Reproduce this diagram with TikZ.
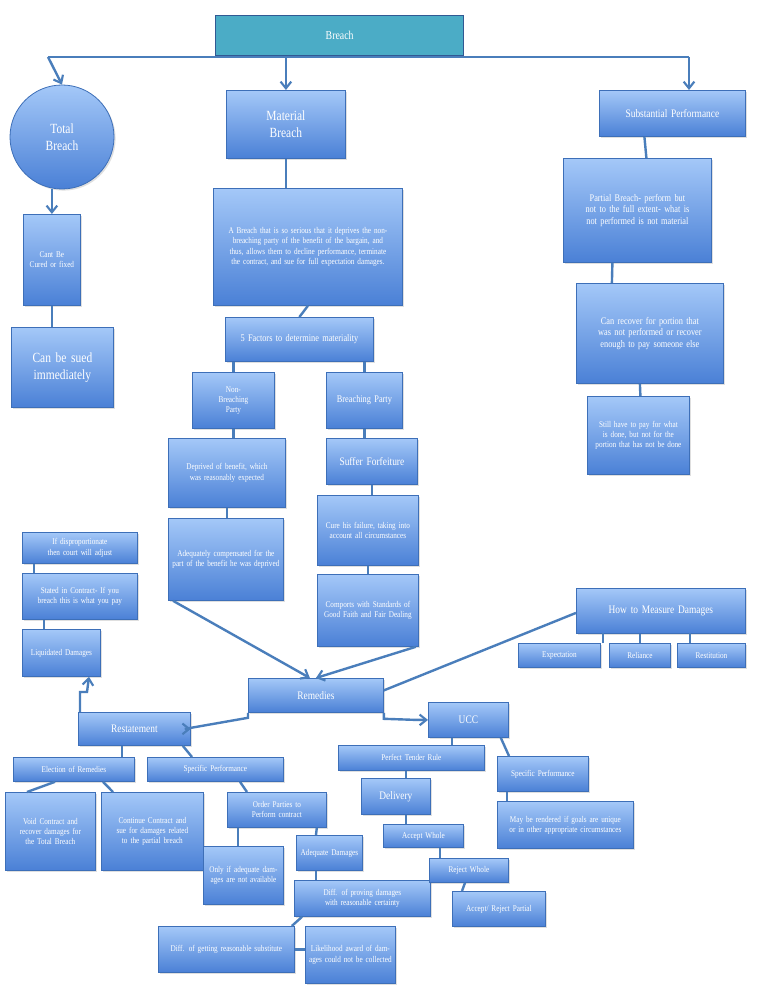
\documentclass[tikz,border=0pt]{standalone}
\usepackage{fontspec}
\setmainfont{Liberation Serif}[FakeStretch=0.82]
\usetikzlibrary{calc,shadows,arrows.meta}
\definecolor{btop}{HTML}{A4C8F8}
\definecolor{bbot}{HTML}{4A80D6}
\definecolor{bdr}{HTML}{3D6FB8}
\definecolor{lnc}{HTML}{4A7EBB}
\definecolor{teal}{HTML}{4BACC6}
\tikzset{
 box/.style={draw=bdr,line width=0.6pt,top color=btop,bottom color=bbot,text=white,align=center,inner sep=1pt,drop shadow={opacity=0.25,shadow xshift=1.2pt,shadow yshift=-1.2pt}},
 f7/.style={font=\fontsize{6.6}{7.6}\selectfont},
 f8/.style={font=\fontsize{7.6}{8.8}\selectfont},
 f9/.style={font=\fontsize{8.6}{10}\selectfont},
 f11/.style={font=\fontsize{10.5}{12.5}\selectfont},
 ln/.style={draw=lnc,line width=1.8pt},
 arr/.style={ln,-{Straight Barb[length=5pt,width=8pt,line width=1.6pt]}},
}
\newcommand\bx[7]{%
 \pgfmathsetmacro\W{(#4-#2)*0.75}\pgfmathsetmacro\H{(#5-#3)*0.75}\pgfmathsetmacro\T{\W-5}%
 \node[box,#6,minimum width=\W pt,minimum height=\H pt,text width=\T pt,anchor=north west] (#1) at (#2,#3) {#7};}
\begin{document}
\begin{tikzpicture}[x=0.75pt,y=-0.75pt]
\path[use as bounding box,fill=white] (0,0) rectangle (768,994);
% top
\node[draw=bdr!80!black,line width=1pt,fill=teal,text=white,minimum width=186pt,minimum height=30pt,anchor=north west,font=\fontsize{9}{10}\selectfont] (breach) at (215,15) {Breach};
\node[circle,box,f11,minimum size=78pt,inner sep=0pt] (tb) at (62,137) {Total\\Breach};
\bx{cant}{23}{214}{80}{305}{f7}{Cant Be Cured or fixed}
\bx{sued}{11}{327}{113}{407}{f11}{Can be sued immediately}
\bx{mb}{226}{90}{345}{158}{f11}{Material\\Breach}
\bx{def}{213}{188}{402}{305}{f7}{\raggedright A Breach that is so serious that it deprives the non-breaching party of the benefit of the bargain, and thus, allows them to decline performance, terminate the contract, and sue for full expectation damages.}
\bx{fac}{225}{317}{373}{361}{f8}{5 Factors to determine materiality}
\bx{nonb}{192}{372}{274}{428}{f7}{Non-\\Breaching\\Party}
\bx{brp}{326}{372}{402}{428}{f8}{Breaching Party}
\bx{dep}{168}{438}{285}{507}{f7}{Deprived of benefit, which was reasonably expected}
\bx{suf}{326}{438}{417}{484}{f9}{Suffer Forfeiture}
\bx{adq}{168}{518}{283}{600}{f7}{Adequately compensated for the part of the benefit he was deprived}
\bx{cure}{317}{495}{418}{565}{f7}{Cure his failure, taking into account all circumstances}
\bx{comp}{317}{574}{418}{646}{f7}{Comports with Standards of Good Faith and Fair Dealing}
\bx{sp}{599}{90}{745}{136}{f9}{Substantial Performance}
\bx{pb}{563}{158}{711}{262}{f8}{Partial Breach- perform but not to the full extent- what is not performed is not material}
\bx{rec}{576}{283}{723}{383}{f8}{Can recover for portion that was not performed or recover enough to pay someone else}
\bx{still}{587}{396}{689}{474}{f7}{Still have to pay for what is done, but not for the portion that has not be done}
\bx{how}{576}{588}{745}{633}{f9}{How to Measure Damages}
\bx{exp}{518}{643}{600}{667}{f7}{Expectation}
\bx{rel}{609}{643}{670}{667}{f7}{Reliance}
\bx{rst}{677}{643}{745}{667}{f7}{Restitution}
\bx{rem}{248}{678}{383}{712}{f9}{Remedies}
\bx{ifd}{22}{532}{137}{563}{f7}{If disproportionate then court will adjust}
\bx{stc}{22}{573}{137}{619}{f7}{Stated in Contract- If you breach this is what you pay}
\bx{liq}{22}{629}{100}{676}{f7}{Liquidated Damages}
\bx{rest}{78}{712}{190}{745}{f9}{Restatement}
\bx{ucc}{428}{702}{508}{737}{f9}{UCC}
\bx{elec}{13}{757}{134}{781}{f7}{Election of Remedies}
\bx{spl}{147}{757}{283}{781}{f7}{Specific Performance}
\bx{void}{5}{792}{95}{870}{f7}{Void Contract and recover damages for the Total Breach}
\bx{cont}{101}{792}{203}{870}{f7}{Continue Contract and sue for damages related to the partial breach}
\bx{ord}{227}{792}{326}{827}{f7}{Order Parties to Perform contract}
\bx{only}{203}{846}{283}{904}{f7}{Only if adequate damages are not available}
\bx{adm}{296}{835}{362}{870}{f7}{Adequate Damages}
\bx{dpr}{294}{880}{430}{916}{f7}{Diff. of proving damages with reasonable certainty}
\bx{dget}{158}{926}{294}{972}{f7}{Diff. of getting reasonable substitute}
\bx{like}{305}{926}{395}{983}{f7}{Likelihood award of damages could not be collected}
\bx{ptr}{338}{745}{484}{770}{f7}{Perfect Tender Rule}
\bx{del}{361}{778}{430}{814}{f9}{Delivery}
\bx{acw}{383}{824}{463}{847}{f7}{Accept Whole}
\bx{rjw}{429}{858}{508}{882}{f7}{Reject Whole}
\bx{arp}{452}{891}{545}{926}{f7}{Accept/ Reject Partial}
\bx{spr}{497}{756}{588}{791}{f7}{Specific Performance}
\bx{may}{497}{801}{633}{848}{f7}{May be rendered if goals are unique or in other appropriate circumstances}
% connectors
\coordinate (hl) at (48,57); \coordinate (hr) at (689,57);
\draw[ln] (hl) -- (hr);
\draw[arr] (hl) -- (tb.north);
\draw[arr] (mb.north |- hl) -- (mb.north);
\draw[arr] (hr) -- (sp.north -| hr);
\draw[arr] (cant.north |- tb.south) -- (cant.north);
\draw[ln] (cant.south) -- (cant.south |- sued.north);
\draw[ln] (mb.south) -- (mb.south |- def.north);
\draw[ln] (def.south) -- (fac.north);
\draw[ln] (nonb.north |- fac.south) -- (nonb.north);
\draw[ln] (brp.north |- fac.south) -- (brp.north);
\draw[ln] (nonb.south) -- (nonb.south |- dep.north);
\draw[ln] (dep.south) -- (dep.south |- adq.north);
\draw[ln] (brp.south) -- (brp.south |- suf.north);
\draw[ln] (suf.south) -- (suf.south |- cure.north);
\draw[ln] (cure.south) -- (cure.south |- comp.north);
\draw[arr] ($(adq.south west)+(5,0)$) -- ($(rem.north)+(-6,0)$);
\draw[arr] ($(comp.south east)+(-3,0)$) -- ($(rem.north)+(0,0)$);
\draw[ln] ($(how.west)+(0,2)$) -- ($(rem.east)+(0,-5)$);
\draw[ln] (exp.north -| 603,0) -- (603,633);
\draw[ln] (rel.north) -- (rel.north |- how.south);
\draw[ln] (rst.north -| 690,0) -- (690,633);
\draw[ln] ($(sp.south)+(-28,0)$) -- ($(pb.north)+(9,0)$);
\draw[ln] ($(pb.south)+(-25,0)$) -- ($(rec.north)+(-38,0)$);
\draw[ln] ($(rec.south)+(-10,0)$) -- ($(still.north)+(2,0)$);
\draw[arr] ($(rem.south west)+(0,0)$) -- ++(0,5) -- ($(rest.east)+(-6,0)$) -- (rest.east);
\draw[arr] (rem.south east) -- ++(0,6) -- ($(ucc.west)+(-12,0)$) -- (ucc.west);
\draw[arr] ($(rest.north west)+(2,0)$) -- ++(0,-20) -- ++(7,0) -- ($(liq.south west)+(67,0)$);
\draw[ln] ($(ifd.south west)+(12,0)$) -- ($(stc.north west)+(12,0)$);
\draw[ln] ($(stc.south west)+(22,0)$) -- ($(liq.north west)+(22,0)$);
\draw[ln] (rest.south -| 122,0) -- (122,757);
\draw[ln] ($(rest.south east)+(-8,0)$) -- ($(spl.north west)+(45,0)$);
\draw[ln] ($(elec.south west)+(42,0)$) -- ($(void.north west)+(22,0)$);
\draw[ln] ($(elec.south west)+(90,0)$) -- ($(cont.north west)+(12,0)$);
\draw[ln] ($(spl.south west)+(93,0)$) -- ($(ord.north west)+(20,0)$);
\draw[ln] ($(ord.south west)+(11,0)$) -- ($(only.north west)+(35,0)$);
\draw[ln] ($(ord.south east)+(-10,0)$) -- ($(adm.north west)+(20,0)$);
\draw[ln] ($(adm.south west)+(20,0)$) -- ($(dpr.north west)+(22,0)$);
\draw[ln] ($(dpr.south west)+(8,0)$) -- ($(dget.north east)+(-3,0)$);
\draw[ln] (dget.east) -- (dget.east -| like.west);
\draw[ln] ($(ucc.south west)+(24,0)$) -- ($(ptr.north west)+(114,0)$);
\draw[ln] ($(ucc.south east)+(-8,0)$) -- ($(spr.north west)+(12,0)$);
\draw[ln] (ptr.south -| 406,0) -- (406,778);
\draw[ln] (del.south -| 406,0) -- (406,824);
\draw[ln] (acw.south -| 440,0) -- (440,858);
\draw[ln] ($(rjw.south west)+(36,0)$) -- ($(arp.north west)+(10,0)$);
\draw[ln] (spr.south -| 507,0) -- (507,801);
\end{tikzpicture}
\end{document}
